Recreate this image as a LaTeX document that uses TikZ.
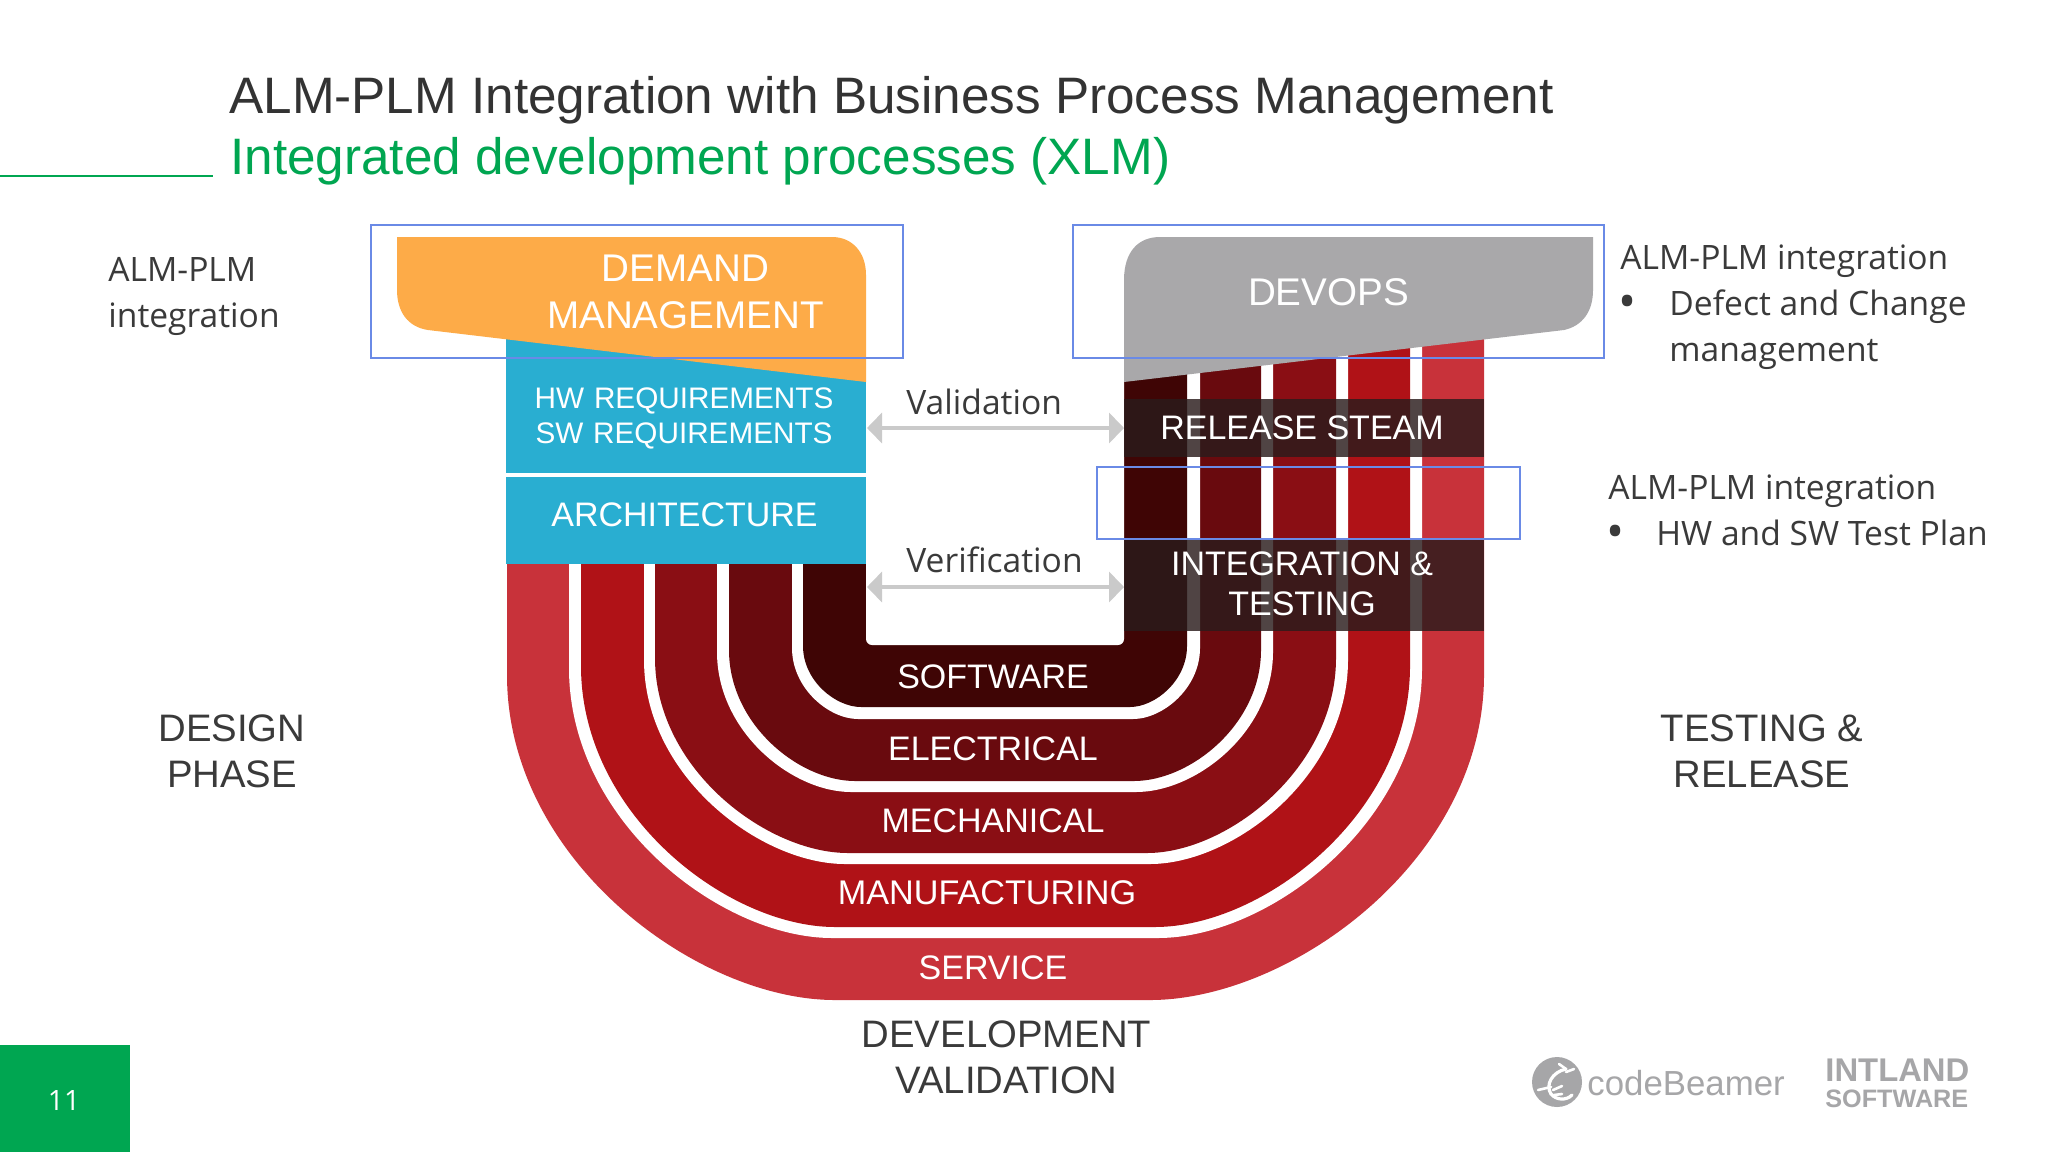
\documentclass[tikz,border=0pt]{standalone}
\usepackage{fontspec}
\setmainfont{Liberation Sans}
\newfontfamily\labelfont{Open Sans}
\usetikzlibrary{arrows.meta}
\definecolor{bandA}{HTML}{C8323A}
\definecolor{bandB}{HTML}{B01217}
\definecolor{bandC}{HTML}{8A0E14}
\definecolor{bandD}{HTML}{690A0E}
\definecolor{bandE}{HTML}{3F0505}
\definecolor{orangeC}{HTML}{FDAB48}
\definecolor{blueC}{HTML}{29AED1}
\definecolor{greyC}{HTML}{A9A8AA}
\definecolor{frameC}{HTML}{6A8AE6}
\definecolor{greenC}{HTML}{00A651}
\definecolor{titleC}{HTML}{333333}
\definecolor{darkC}{HTML}{2A1C1C}
\definecolor{arrowC}{HTML}{CACACA}
\definecolor{logoC}{HTML}{A6A6A8}
\definecolor{textC}{HTML}{3A3A3A}
\newcommand{\kb}{.58}
\newcommand{\bandfill}[7]{%
  \fill[#1] (#2,330) -- (#2,#5)
    .. controls (#2,{#5+.57*(#4-#5)}) and ({#2+\kb*(#6-#2)},#4) .. (#6,#4)
    -- (#7,#4)
    .. controls ({#3-\kb*(#3-#7)},#4) and (#3,{#5+.57*(#4-#5)}) .. (#3,#5)
    -- (#3,330) -- cycle;}
\tikzset{
  wlabel/.style={text=white,align=center,inner sep=0pt,font=\fontsize{#1}{#1}\selectfont},
  slabel/.style={text=textC,align=center,inner sep=0pt,font=\fontsize{19.15}{23}\selectfont},
  hlabel/.style={text=textC,anchor=west,inner sep=0pt,font=\labelfont\fontsize{16.8}{23}\selectfont},
  blabel/.style={text=textC,inner sep=0pt,font=\labelfont\fontsize{24}{24}\selectfont},
  frame/.style={draw=frameC,line width=0.55pt},
  overlay band/.style={fill=darkC,fill opacity=.82},
  vvarrow/.style={draw=arrowC,line width=1.8pt,{Triangle[length=7.5pt,width=15pt]}-{Triangle[length=7.5pt,width=15pt]}}
}
\begin{document}
\begin{tikzpicture}[x=0.5pt,y=-0.5pt]
\useasboundingbox (0,0) rectangle (2048,1152);
\fill[white] (0,0) rectangle (2048,1152);
% header
\node[anchor=base west,inner sep=0pt,text=titleC,font=\fontsize{25.62}{26}\selectfont] (title) at (229,113) {ALM-PLM Integration with Business Process Management};
\node[anchor=base west,inner sep=0pt,text=greenC,font=\fontsize{25.62}{26}\selectfont] (subtitle) at (230,174) {Integrated development processes (XLM)};
\draw[greenC,line width=0.8pt] (0,176) -- (213,176);
% bands
\bandfill{bandA}{507}{1484}{1000}{675}{835}{1150}
\bandfill{white}{569}{1422}{938}{668}{832}{1158}
\bandfill{bandB}{581}{1410}{927}{666}{835}{1155}
\bandfill{white}{644}{1348}{864}{660}{845}{1150}
\bandfill{bandC}{655}{1336}{853}{658}{848}{1147}
\renewcommand{\kb}{.56}
\bandfill{white}{717}{1273}{792}{652}{851}{1136}
\bandfill{bandD}{729}{1261}{781}{650}{855}{1134}
\bandfill{white}{792}{1200}{719}{648}{858}{1133}
\bandfill{bandE}{803}{1187}{707}{646}{861}{1130}
\fill[white,rounded corners=3pt] (866,300) -- (866,645) -- (1124,645) -- (1124,300) -- cycle;
% blue boxes
\fill[white] (506,470) rectangle (866,480);
\fill[blueC] (506,320) -- (866,320) -- (866,473) -- (506,473) -- cycle;
\fill[blueC] (506,477) rectangle (866,564);
% orange
\fill[orangeC] (397,237) -- (832,237) .. controls (852,237) and (866,252) .. (866,275) -- (866,382) -- (428,330) .. controls (408,327) and (397,312) .. (397,290) -- cycle;
% grey
\fill[greyC] (1593,237) -- (1160,237) .. controls (1138,237) and (1124,252) .. (1124,280) -- (1124,382) -- (1564,330) .. controls (1582,326) and (1593,312) .. (1593,290) -- cycle;
% overlays
\fill[overlay band] (1124,399) rectangle (1484,457);
\fill[overlay band] (1124,540) rectangle (1484,631);
% frames
\draw[frame] (371,225) rectangle (903,358);
\draw[frame] (1073,225) rectangle (1604,358);
\draw[frame] (1097,467) rectangle (1520,539);
% arrows
\coordinate (valL) at (867,428);
\coordinate (valR) at (1124,428);
\coordinate (verL) at (867,587);
\coordinate (verR) at (1124,587);
\draw[vvarrow] (valL) -- (valR);
\draw[vvarrow] (verL) -- (verR);
\node[hlabel] (validation) at (906,402) {Validation};
\node[hlabel] (verification) at (906,560) {Verification};
% box text
\node[wlabel=19.3] (demand) at (685.5,292) {DEMAND\\[4pt]MANAGEMENT};
\node[wlabel=19.3] (devops) at (1328.5,292) {DEVOPS};
\node[wlabel=14.85,text width=340] (req) at (684,418.5) {HW REQUIREMENTS\\[2.7pt]SW REQUIREMENTS};
\node[wlabel=17] (arch) at (684.5,515) {ARCHITECTURE};
\node[wlabel=17] (release) at (1302,428) {RELEASE STEAM};
\node[wlabel=17] (integ) at (1302,583.5) {INTEGRATION \&\\[3pt]TESTING};
% band text
\node[wlabel=17] (sw) at (993,677) {SOFTWARE};
\node[wlabel=17] (el) at (993,749) {ELECTRICAL};
\node[wlabel=17] (me) at (993,821) {MECHANICAL};
\node[wlabel=17.1] (ma) at (987,893) {MANUFACTURING};
\node[wlabel=17] (se) at (993,968) {SERVICE};
% side text
\node[hlabel,align=left] (leftint) at (108,296) {ALM-PLM\\integration};
\node[hlabel] (r1) at (1620,261) {ALM-PLM integration};
\node[blabel] (r1b) at (1627,307) {•};
\node[hlabel,align=left] (r1t) at (1669,329.5) {Defect and Change\\management};
\node[hlabel] (r2) at (1608,491) {ALM-PLM integration};
\node[blabel] (r2b) at (1615,537) {•};
\node[hlabel] (r2t) at (1656,533) {HW and SW Test Plan};
\node[slabel] (design) at (232,751) {DESIGN\\PHASE};
\node[slabel] (testing) at (1762,751) {TESTING \&\\RELEASE};
\node[slabel] (devval) at (1006.5,1057) {DEVELOPMENT\\VALIDATION};
% page number
\fill[greenC] (0,1045) rectangle (130,1152);
\node[text=white,inner sep=0pt,font=\labelfont\fontsize{14}{14}\selectfont] (page) at (64,1100) {11};
% logo
\fill[logoC] (1557,1082) circle[radius=25];
\draw[white,line width=1.6pt,line cap=round] (1566,1069) .. controls (1552,1072) and (1545,1085) .. (1551,1094) .. controls (1556,1100) and (1566,1101) .. (1572,1095);
\draw[white,line width=1.3pt,line cap=round] (1566,1069) -- (1559,1064) (1566,1072) -- (1574,1069) (1551,1087) -- (1538,1090) (1553,1090) -- (1562,1086) (1554,1095) -- (1562,1094);
\node[anchor=west,inner sep=0pt,text=logoC,font=\fontsize{17.4}{17.4}\selectfont] (cb) at (1587,1083) {codeBeamer};
\node[anchor=west,inner sep=0pt,text=logoC,font=\bfseries\fontsize{16.4}{16.4}\selectfont] (intland) at (1825,1070) {INTLAND};
\node[anchor=west,inner sep=0pt,text=logoC,font=\bfseries\fontsize{12.6}{12.6}\selectfont] (software) at (1825,1099) {SOFTWARE};
\end{tikzpicture}
\end{document}
